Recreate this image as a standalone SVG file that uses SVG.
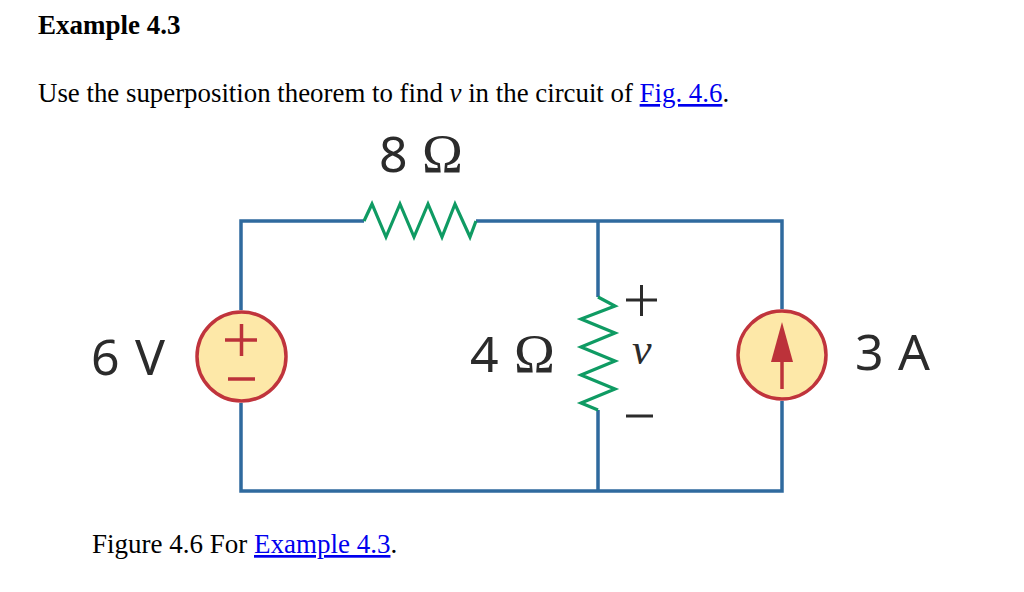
<svg xmlns="http://www.w3.org/2000/svg" width="1024" height="592" viewBox="0 0 1024 592">
<style>
.doc{font-family:"Liberation Serif","Times New Roman",serif;font-size:26.850px;fill:#000}
.link{fill:#0000ee;text-decoration:underline}
.lab{font-family:"Noto Sans","Open Sans",sans-serif;font-size:50px;fill:#2b2b2b}
.om{font-family:"Liberation Serif",serif;font-size:55px;fill:#2b2b2b}
.wire{fill:none;stroke:#2f6a9e;stroke-width:3.500}
.res{fill:none;stroke:#0f9b63;stroke-width:3.200;stroke-linejoin:miter}
.src{fill:#fde8a8;stroke:#c0343c;stroke-width:3.500}
.sym{fill:none;stroke:#bc323a;stroke-width:3.500}
.pol{fill:none;stroke:#2b2b2b;stroke-width:3}
</style>
<rect width="1024" height="592" fill="#fff"/>
<g id="text">
<text class="doc" x="38" y="34" style="font-weight:700;font-size:27px">Example 4.3</text>
<text class="doc" x="38" y="102">Use the superposition theorem to find <tspan font-style="italic">v</tspan> in the circuit of <tspan class="link">Fig. 4.6</tspan>.</text>
<text class="doc" x="92" y="553" style="font-size:27px">Figure 4.6 For <tspan class="link">Example 4.3</tspan>.</text>
</g>
<g id="connectors">
<path class="wire" d="M364 221H241V310M241 403V491H782V401M782 309V221H476M598 221V297M598 410V491"/>
</g>
<g id="r8">
<path class="res" d="M364 221L372 204L386 237L400 204L414 237L428 204L442 237L455 204L470 237L476 221"/>
<text class="lab" x="379" y="172">8</text><text class="om" x="422" y="172">Ω</text>
</g>
<g id="r4">
<path class="res" d="M598 297L615 306L581 319L615 333L581 347L615 361L581 375L615 389L581 403L598 410"/>
<text class="lab" x="470" y="372">4</text><text class="om" x="514" y="372">Ω</text>
<path class="pol" d="M626 300H657M641.500 285V316M626 416H653"/>
<text x="632" y="364" style="font-family:'Liberation Serif',serif;font-style:italic;font-size:44px;fill:#2b2b2b">v</text>
</g>
<g id="v6">
<circle class="src" cx="241.500" cy="356.500" r="44.500"/>
<path class="sym" d="M225 340H257M241.500 324V356M228 379H255"/>
<text class="lab" x="91" y="375">6<tspan x="135">V</tspan></text>
</g>
<g id="i3">
<circle class="src" cx="782" cy="355" r="44"/>
<path class="sym" d="M782 360V389"/>
<path d="M782 322L793 362H771Z" fill="#bc323a"/>
<text class="lab" x="855" y="370">3<tspan x="898">A</tspan></text>
</g>
</svg>
